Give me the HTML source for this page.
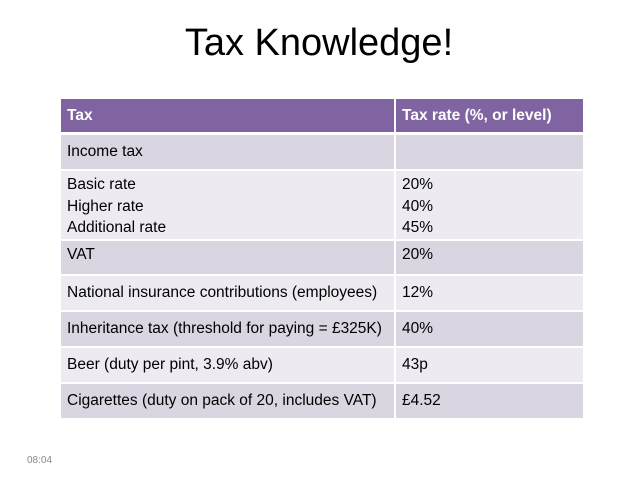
<!DOCTYPE html>
<html><head><meta charset="utf-8"><style>
body{margin:0;width:638px;height:479px;background:#fff;position:relative;overflow:hidden;font-family:"Liberation Sans",sans-serif}
#title{position:absolute;left:0;width:638px;top:22px;text-align:center;font-size:38px;color:#000}
table{position:absolute;left:61px;top:99px;width:522px;border-collapse:collapse;font-size:15.5px;color:#000}
td,th{padding:0 6px;vertical-align:top;text-align:left;border:2px solid #fff;border-top:0;border-left:0}
td:last-child,th:last-child{border-right:0}
th{background:#8064A2;color:#fff;font-weight:bold;height:33px;vertical-align:middle;border-bottom:3px solid #fff}
tr.d td{background:#D9D5E1}
tr.l td{background:#EDEBF1}
td{padding-top:6px;line-height:21.5px}
#time{position:absolute;left:27px;top:455px;font-size:10px;color:#888}
</style></head><body>
<div id="title">Tax Knowledge!</div>
<table>
<tr><th style="width:321px">Tax</th><th>Tax rate (%, or level)</th></tr>
<tr class="d"><td style="height:28px">Income tax</td><td></td></tr>
<tr class="l"><td style="height:64px;padding-top:3px">Basic rate<br>Higher rate<br>Additional rate</td><td style="padding-top:3px">20%<br>40%<br>45%</td></tr>
<tr class="d"><td style="height:30px;padding-top:3px">VAT</td><td style="padding-top:3px">20%</td></tr>
<tr class="l"><td style="height:28px">National insurance contributions (employees)</td><td>12%</td></tr>
<tr class="d"><td style="height:28px">Inheritance tax (threshold for paying = £325K)</td><td>40%</td></tr>
<tr class="l"><td style="height:28px">Beer (duty per pint, 3.9% abv)</td><td>43p</td></tr>
<tr class="d"><td style="height:28px;border-bottom:0">Cigarettes (duty on pack of 20, includes VAT)</td><td style="border-bottom:0">£4.52</td></tr>
</table>
<div id="time">08:04</div>
</body></html>
